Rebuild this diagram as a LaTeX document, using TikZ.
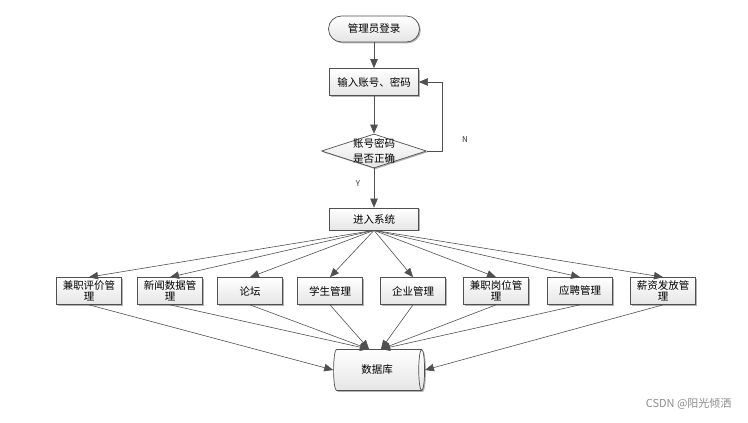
\documentclass[tikz,border=0pt]{standalone}
\usepackage{fontspec}
\setmainfont{Noto Sans CJK SC}
\usetikzlibrary{shapes.geometric,arrows.meta,shadows,calc}
\definecolor{edgec}{HTML}{505050}
\definecolor{boxc}{HTML}{505050}
\tikzset{
  base/.style={draw=boxc, line width=0.7pt, top color=white, bottom color=black!10,
    font=\fontsize{10.5}{12.5}\selectfont, inner sep=1pt, align=center,
    drop shadow={shadow xshift=1.3pt, shadow yshift=-1.3pt, opacity=0.3, fill=black}},
  procbox/.style={base, rectangle, minimum width=89pt, minimum height=27pt},
  rowbox/.style={base, rectangle, minimum width=65pt, minimum height=27pt},
  startbox/.style={base, rectangle, rounded corners=13pt, minimum width=91pt, minimum height=26pt},
  decbox/.style={base, diamond, minimum width=105pt, minimum height=34pt, inner sep=0pt},
  dectext/.style={font=\fontsize{10.5}{15}\selectfont, align=center, inner sep=0pt},
  dbbox/.style={base, cylinder, shape border rotate=0, aspect=0.5, minimum height=91pt, minimum width=41pt},
  conn/.style={draw=edgec, line width=0.6pt, -{Triangle[length=9pt,width=7.5pt]}},
  lab/.style={font=\fontsize{8}{9}\selectfont, text=black!80},
}
\begin{document}
\begin{tikzpicture}[x=1pt,y=-1pt]
\useasboundingbox (0,0) rectangle (748,423);
\node[startbox] (start) at (374,29) {管理员登录};
\node[procbox] (input) at (374,82) {输入账号、密码};
\node[decbox] (dec) at (374,151) {};
\node[dectext] (dect) at (dec.center) {账号密码\\是否正确};
\node[procbox, minimum height=22pt] (enter) at (374,219) {进入系统};

\node[rowbox] (b1) at (89,291) {兼职评价管\\[-1pt]理};
\node[rowbox] (b2) at (170,291) {新闻数据管\\[-1pt]理};
\node[rowbox] (b3) at (250,291) {论坛};
\node[rowbox] (b4) at (330,291) {学生管理};
\node[rowbox] (b5) at (413,291) {企业管理};
\node[rowbox] (b6) at (496,291) {兼职岗位管\\[-1pt]理};
\node[rowbox] (b7) at (580,291) {应聘管理};
\node[rowbox] (b8) at (663,291) {薪资发放管\\[-1pt]理};

\node[dbbox] (db) at (377,370) {数据库};
\coordinate (dbL) at ([xshift=-8pt]db.north);
\coordinate (dbR) at ([xshift=4pt]db.north);
\coordinate (loop) at (442,151);

\draw[conn] (start) -- (input);
\draw[conn] (input) -- (dec);
\draw[conn] (dec) -- (enter);
\draw[conn] (dec.east) -- (loop) |- (input.east);

\node[lab] (nlab) at (465,140) {N};
\node[lab] (ylab) at (358,184) {Y};

\foreach \b in {b1,b2,b3,b4,b5,b6,b7,b8}
  \draw[conn] (enter.south) -- (\b.north);

\draw[conn] (b1.south) -- (db.west);
\draw[conn] (b2.south) -- (dbL);
\draw[conn] (b3.south) -- (dbL);
\draw[conn] (b4.south) -- (dbL);
\draw[conn] (b5.south) -- (dbR);
\draw[conn] (b6.south) -- (dbR);
\draw[conn] (b7.south) -- (dbR);
\draw[conn] (b8.south) -- (db.east);

\node[font=\fontsize{11}{13}\selectfont, text=black!45, anchor=east] (wm) at (735,404) {CSDN @阳光倾洒};
\end{tikzpicture}
\end{document}
